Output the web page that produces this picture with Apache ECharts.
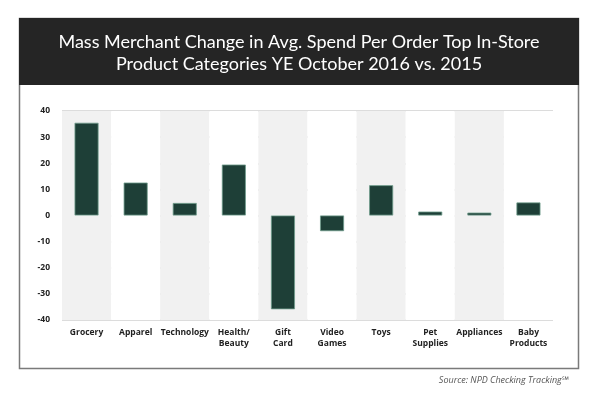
<!DOCTYPE html>
<html><head><meta charset="utf-8">
<script src="https://cdn.jsdelivr.net/npm/echarts@6/dist/echarts.min.js"></script>
<style>html,body{margin:0;padding:0;background:#fff}#c{width:598px;height:402px}</style>
</head><body><div id="c"></div>
<script>
const categories = ['Grocery','Apparel','Technology','Health/\nBeauty','Gift\nCard','Video\nGames','Toys','Pet\nSupplies','Appliances','Baby\nProducts'];
const values = [35.5, 12.6, 4.8, 19.5, -35.9, -6.0, 11.6, 1.5, 1.1, 5.0];
const yTicks = [-40, -30, -20, -10, 0, 10, 20, 30, 40];
const titleText = 'Mass Merchant Change in Avg. Spend Per Order Top In-Store\nProduct Categories YE October 2016 vs. 2015';
const sourceText = 'Source: NPD Checking Tracking\u2120';

const chart = echarts.init(document.getElementById('c'), null, {renderer:'canvas'});
chart.setOption({
  animation: false,
  backgroundColor: '#fff',
  graphic: [
    {type:'rect', z:-10, shape:{x:19.5,y:18.5,width:559,height:350}, style:{fill:'#fff', stroke:'#7a7a7a', lineWidth:1.5}},
    {type:'rect', z:-9, shape:{x:19,y:18,width:560,height:67}, style:{fill:'#252525'}},
    {type:'text', x: 299, y: 31, style:{text:titleText, fill:'#fff', font:'400 18px Lato, "Open Sans", sans-serif', align:'center', verticalAlign:'top', lineHeight:22}},
    {type:'text', right: 29, top: 376, style:{text:sourceText, fill:'#555', font:'italic 9px "Open Sans", Lato, sans-serif'}}
  ],
  grid: {left: 62, right: 45, top: 111, bottom: 82, containLabel:false},
  xAxis: {
    type:'category', data: categories,
    axisLine:{show:false}, axisTick:{show:false},
    splitArea:{show:true, areaStyle:{color:['#f1f1f1','#ffffff']}},
    axisLabel:{color:'#222', fontSize:8.5, fontWeight:'bold', fontFamily:'"Open Sans", Lato, sans-serif', lineHeight:11, margin:7, interval:0}
  },
  yAxis: {
    type:'value', min: yTicks[0], max: yTicks[yTicks.length-1], interval: 10,
    axisLine:{show:false}, axisTick:{show:false},
    splitLine:{show:true, lineStyle:{color:'#d0d0d0', width:1.5}},
    axisLabel:{color:'#222', fontSize:8.5, fontWeight:'bold', fontFamily:'"Open Sans", Lato, sans-serif', margin:12}
  },
  series: [{
    type:'bar', data: values, barWidth: 24,
    itemStyle:{color:'#1e3f37', borderColor:'#6f9c8c', borderWidth:0.8}
  }]
});
</script></body></html>
